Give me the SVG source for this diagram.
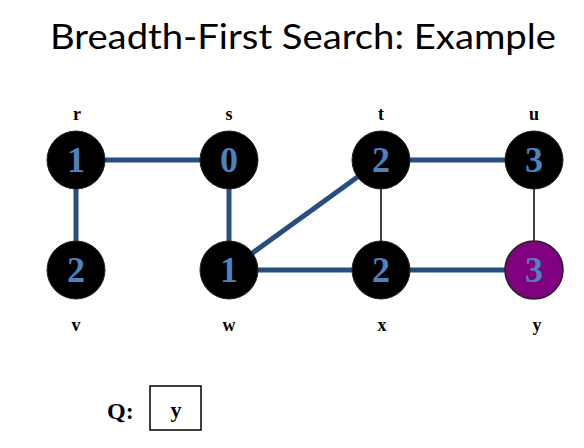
<svg xmlns="http://www.w3.org/2000/svg" width="584" height="448" viewBox="0 0 584 448">
<style>
.title{font-family:"Lato","Open Sans","Liberation Sans",sans-serif;font-size:34px;fill:#000}
.lbl{font-family:"Liberation Serif",serif;font-weight:bold;font-size:18px;fill:#000;text-anchor:middle}
.num{font-family:"Liberation Serif",serif;font-weight:bold;font-size:36px;fill:#4f81bd;text-anchor:middle}
.node{fill:#000;stroke:#222;stroke-width:1}
.tree{stroke:#264f7f;stroke-width:5;fill:none}
.edge{stroke:#000;stroke-width:1.5;fill:none}
.q{font-family:"Liberation Serif",serif;font-weight:bold;font-size:24px;fill:#000}
</style>
<rect width="584" height="448" fill="#fff"/>
<text class="title" x="50" y="49" textLength="506" lengthAdjust="spacingAndGlyphs">Breadth-First Search: Example</text>
<g id="connectors">
<line class="tree" x1="76" y1="160" x2="229" y2="160"/>
<line class="tree" x1="76" y1="160" x2="76" y2="270"/>
<line class="tree" x1="229" y1="160" x2="229" y2="270"/>
<line class="tree" x1="229" y1="270" x2="381" y2="160"/>
<line class="tree" x1="229" y1="270" x2="381" y2="270"/>
<line class="tree" x1="381" y1="160" x2="534" y2="160"/>
<line class="tree" x1="381" y1="270" x2="534" y2="270"/>
<line class="edge" x1="381" y1="160" x2="381" y2="270"/>
<line class="edge" x1="534" y1="160" x2="534" y2="270"/>
</g>
<g id="node-r"><circle class="node" cx="76" cy="160" r="29"/><text class="num" x="76" y="172">1</text><text class="lbl" x="77" y="120">r</text></g>
<g id="node-s"><circle class="node" cx="229" cy="160" r="29"/><text class="num" x="229" y="172">0</text><text class="lbl" x="229" y="120">s</text></g>
<g id="node-t"><circle class="node" cx="381" cy="160" r="29"/><text class="num" x="381" y="172">2</text><text class="lbl" x="381" y="120">t</text></g>
<g id="node-u"><circle class="node" cx="534" cy="160" r="29"/><text class="num" x="534" y="172">3</text><text class="lbl" x="534" y="120">u</text></g>
<g id="node-v"><circle class="node" cx="76" cy="270" r="29"/><text class="num" x="76" y="282">2</text><text class="lbl" x="76" y="331">v</text></g>
<g id="node-w"><circle class="node" cx="229" cy="270" r="29"/><text class="num" x="229" y="282">1</text><text class="lbl" x="229" y="331">w</text></g>
<g id="node-x"><circle class="node" cx="381" cy="270" r="29"/><text class="num" x="381" y="282">2</text><text class="lbl" x="382" y="331">x</text></g>
<g id="node-y"><circle cx="534" cy="270" r="29" fill="#800080" stroke="#222" stroke-width="1.5"/><text class="num" x="534" y="282">3</text><text class="lbl" x="537" y="331">y</text></g>
<g id="queue">
<text class="q" x="107" y="419">Q:</text>
<rect x="150" y="386" width="51" height="44" fill="#fff" stroke="#000" stroke-width="1.5"/>
<text class="lbl" x="176" y="417" style="font-size:22px">y</text>
</g>
</svg>
